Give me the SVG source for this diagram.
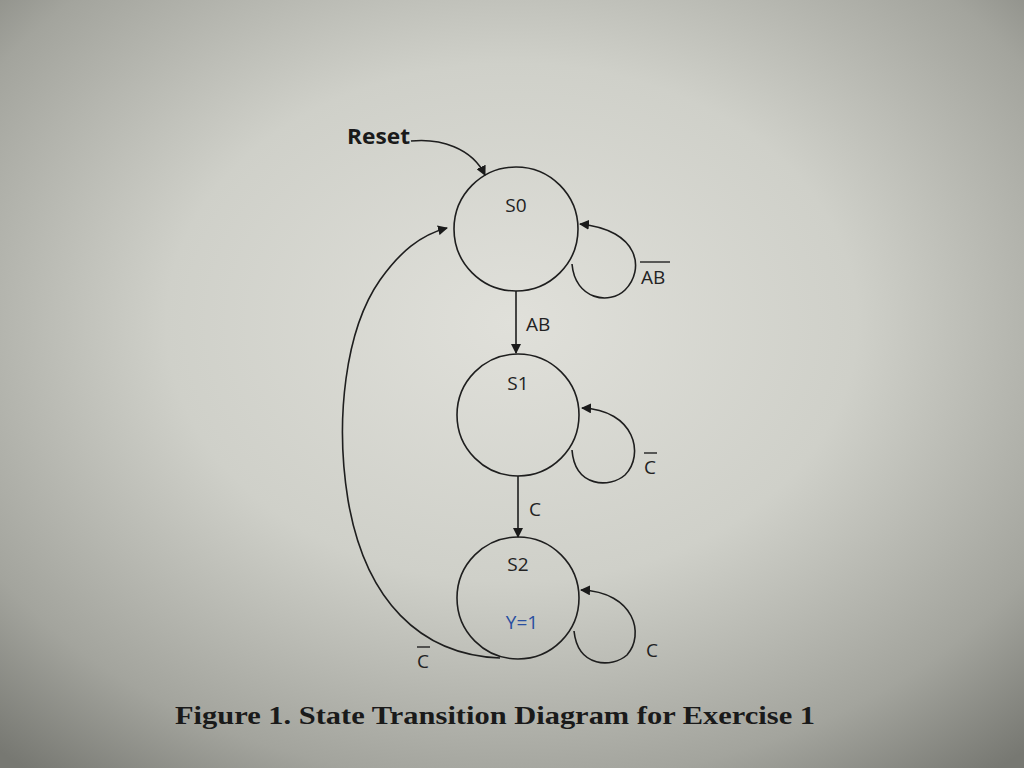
<svg xmlns="http://www.w3.org/2000/svg" width="1024" height="768" viewBox="0 0 1024 768">
<defs>
<radialGradient id="bg" cx="0.5" cy="0.42" r="0.75">
<stop offset="0" stop-color="#e0e0da"/>
<stop offset="0.45" stop-color="#cfd0c9"/>
<stop offset="0.8" stop-color="#a3a49d"/>
<stop offset="1" stop-color="#777872"/>
</radialGradient>
<marker id="arr" viewBox="0 0 10 10" refX="9" refY="5" markerWidth="10" markerHeight="10" markerUnits="userSpaceOnUse" orient="auto">
<path d="M0,0 L10,5 L0,10 z" fill="#1a1a1a"/>
</marker>
<style>
.st{fill:none;stroke:#1e1e1e;stroke-width:1.6}
.ed{fill:none;stroke:#1e1e1e;stroke-width:1.6;marker-end:url(#arr)}
.lb{font-family:"Open Sans","Liberation Sans",sans-serif;font-size:19px;fill:#222}
.ov{stroke:#222;stroke-width:1.4}
</style>
</defs>
<rect width="1024" height="768" fill="url(#bg)"/>
<g id="S0">
<circle class="st" cx="516" cy="229" r="62"/>
<text class="lb" x="516" y="212" text-anchor="middle">S0</text>
</g>
<g id="S1">
<circle class="st" cx="518" cy="415" r="61"/>
<text class="lb" x="518" y="390" text-anchor="middle">S1</text>
</g>
<g id="S2">
<circle class="st" cx="518" cy="598" r="61"/>
<text class="lb" x="518" y="571" text-anchor="middle">S2</text>
<text class="lb" x="522" y="629" text-anchor="middle" style="fill:#2a4fa0">Y=1</text>
</g>
<g id="connectors">
<text x="347" y="144" font-family="'Open Sans','Liberation Sans',sans-serif" font-size="21" font-weight="bold" fill="#1a1a1a" textLength="63" lengthAdjust="spacingAndGlyphs">Reset</text>
<path class="ed" d="M411,141 C440,138 472,148 485,175"/>
<path class="ed" d="M572,264 C575,300 610,305 625,290 C645,270 640,230 580,224"/>
<text class="lb" x="641" y="284">AB</text>
<line class="ov" x1="640" y1="262" x2="670" y2="262"/>
<path class="ed" d="M516,291 L516,353"/>
<text class="lb" x="526" y="331">AB</text>
<path class="ed" d="M572,450 C575,488 610,488 625,475 C645,455 635,410 582,408"/>
<text class="lb" x="644" y="474">C</text>
<line class="ov" x1="644" y1="453" x2="657" y2="453"/>
<path class="ed" d="M518,476 L518,537"/>
<text class="lb" x="529" y="516">C</text>
<path class="ed" d="M574,631 C578,668 612,668 627,655 C645,635 635,592 581,590"/>
<text class="lb" x="646" y="657">C</text>
<path class="ed" d="M500,658 C420,655 365,600 348,500 C335,420 345,330 380,280 C400,252 420,235 447,228"/>
<text class="lb" x="417" y="668">C</text>
<line class="ov" x1="417" y1="647" x2="430" y2="647"/>
</g>
<text x="495" y="724" text-anchor="middle" font-family="'Liberation Serif',serif" font-size="26" font-weight="bold" fill="#1a1a1a" textLength="640" lengthAdjust="spacingAndGlyphs">Figure 1. State Transition Diagram for Exercise 1</text>
</svg>
